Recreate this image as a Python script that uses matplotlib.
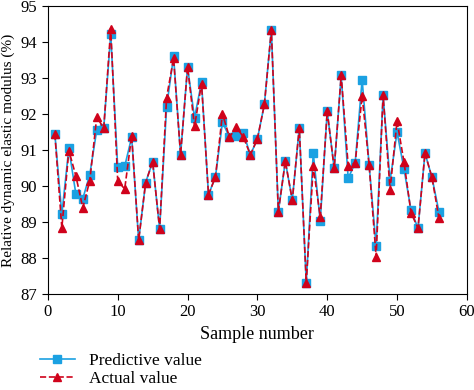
import matplotlib.pyplot as plt

plt.rcParams['font.family'] = ['Liberation Serif', 'DejaVu Serif']

samples = list(range(1, 57))
predicted = [91.45, 89.22, 91.05, 89.79, 89.65, 90.32, 91.56, 91.61, 94.22, 90.52,
             90.55, 91.36, 88.50, 90.10, 90.68, 88.81, 92.20, 93.61, 90.87, 93.31,
             91.90, 92.89, 89.76, 90.26, 91.78, 91.36, 91.40, 91.47, 90.87, 91.31,
             92.27, 94.34, 89.29, 90.69, 89.61, 91.62, 87.31, 90.92, 89.03, 92.08,
             90.49, 93.08, 90.22, 90.64, 92.96, 90.59, 88.33, 92.52, 90.15, 91.50,
             90.47, 89.33, 88.83, 90.92, 90.24, 89.29]
actual = [91.45, 88.84, 90.99, 90.29, 89.40, 90.15, 91.92, 91.61, 94.38, 90.15,
          89.92, 91.40, 88.50, 90.10, 90.68, 88.81, 92.46, 93.55, 90.87, 93.31,
          91.66, 92.85, 89.76, 90.26, 92.01, 91.36, 91.64, 91.36, 90.87, 91.31,
          92.27, 94.34, 89.29, 90.69, 89.61, 91.62, 87.31, 90.55, 89.14, 92.08,
          90.49, 93.08, 90.57, 90.64, 92.51, 90.59, 88.04, 92.52, 89.90, 91.81,
          90.66, 89.26, 88.83, 90.92, 90.24, 89.11]

fig = plt.figure(figsize=(4.74, 3.9), dpi=100)
ax = fig.add_axes([0.101, 0.246, 0.884, 0.738])

ax.plot(samples, predicted, color='#1ba1e2', linestyle='-', linewidth=1.2,
        marker='s', markersize=5.5, label='Predictive value')
ax.plot(samples, actual, color='#d0021b', linestyle='--', linewidth=1.2,
        marker='^', markersize=6, label='Actual value')

ax.set_xlim(0, 60)
ax.set_ylim(87, 95)
ax.set_xticks(range(0, 61, 10))
ax.set_yticks(range(87, 96))
ax.tick_params(labelsize=12, direction='out', length=4)
ax.set_xlabel('Sample number', fontsize=13)
ax.set_ylabel('Relative dynamic elastic modulus (%)', fontsize=11)

fig.legend(loc='upper left', bbox_to_anchor=(0.07, 0.112), frameon=False,
           fontsize=12.5, handlelength=2, labelspacing=0.1, borderaxespad=0)

fig.savefig('out.png', dpi=100)
